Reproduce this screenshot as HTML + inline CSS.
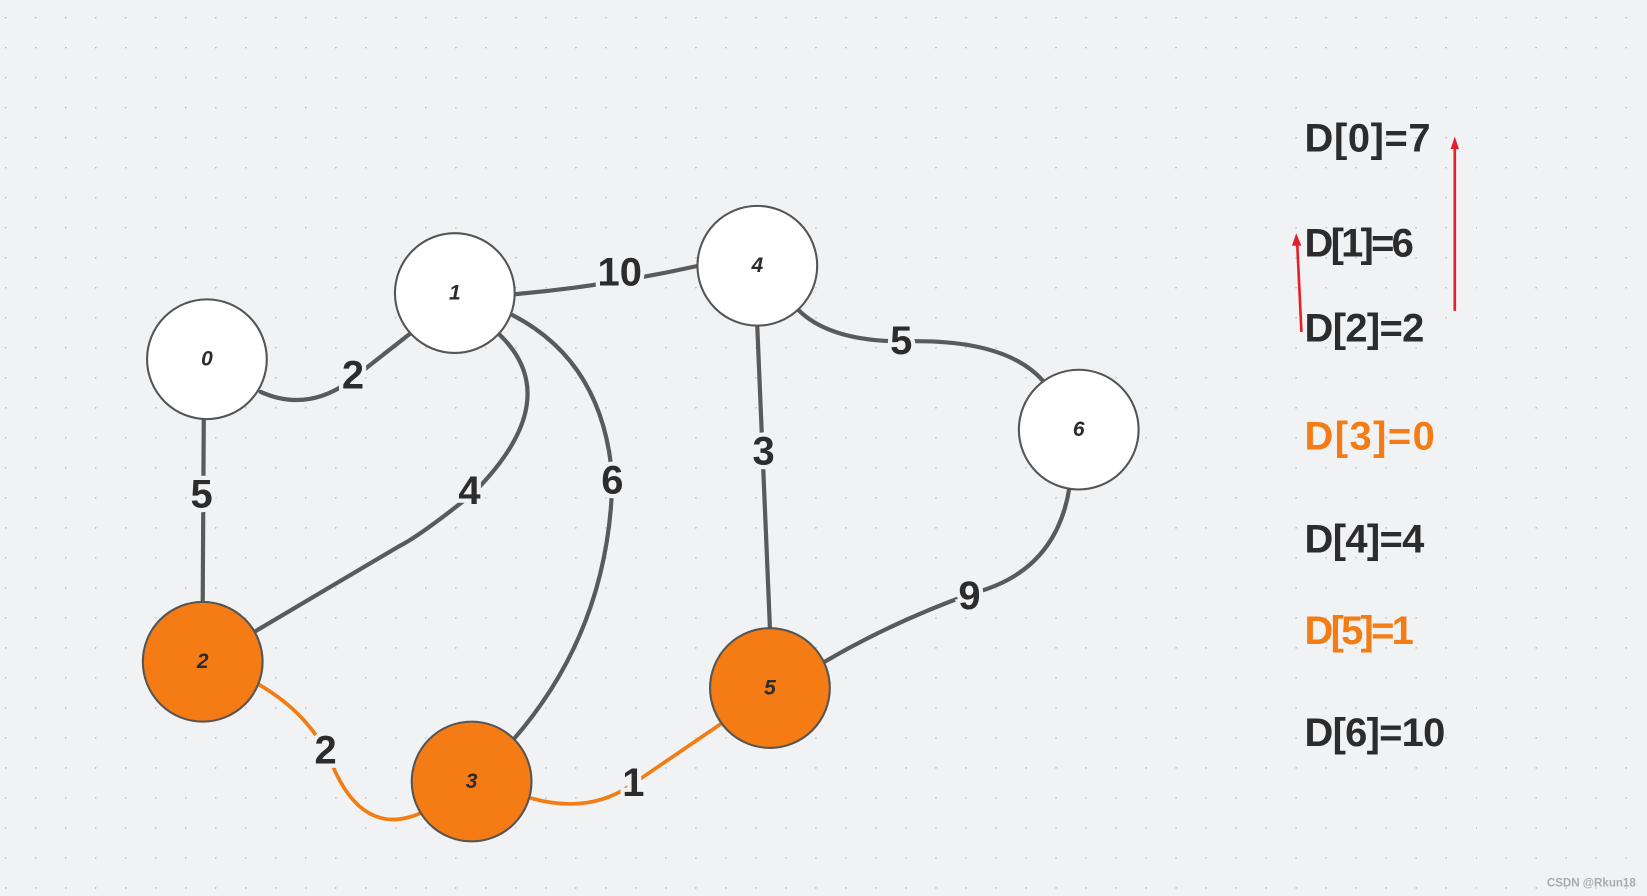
<!DOCTYPE html>
<html><head><meta charset="utf-8"><style>
html,body{margin:0;padding:0;background:#f1f2f4;}
svg{display:block}
text{font-family:"Liberation Sans","DejaVu Sans",sans-serif;font-weight:bold;}
</style></head><body>
<svg width="1647" height="896" viewBox="0 0 1568 853" preserveAspectRatio="none" xmlns="http://www.w3.org/2000/svg">
<defs>
<pattern id="g" x="4.8" y="16.2" width="28.57" height="28.57" patternUnits="userSpaceOnUse">
<circle cx="0.6" cy="0.6" r="0.7" fill="#a9acb2"/>
</pattern>
</defs>
<rect width="1568" height="853" fill="#f1f2f4"/>
<rect width="1568" height="853" fill="url(#g)"/>
<g fill="none" stroke="#5a5a5a" stroke-width="4" stroke-linecap="round">
<path d="M248,373 Q290,392 330,365 L390,318"/>
<path d="M194,398 L193,573"/>
<path d="M491,280 Q580,272 665,253"/>
<path d="M475,318 Q540,380 450,470 Q400,510 380,520 L243,601"/>
<path d="M488,300 Q575,345 583,456 Q580,600 488,705"/>
<path d="M721,312 L733,598"/>
<path d="M760,295 Q790,325 860,325 Q960,322 995,365"/>
<path d="M1018,465 Q1005,545 925,565 Q850,592 785,630"/>
</g>
<g fill="none" stroke="#f47c14" stroke-width="3.5" stroke-linecap="round">
<path d="M247,652 Q295,680 315,725 Q345,800 403,773"/>
<path d="M506,760 Q560,775 600,748 L688,688"/>
</g>
<g font-size="38" fill="#2c2c2c" text-anchor="middle" stroke="#f1f2f4" stroke-width="8" paint-order="stroke">
<text x="336" y="370">2</text>
<text x="192" y="483">5</text>
<text x="590" y="272">10</text>
<text x="447" y="480">4</text>
<text x="583" y="470">6</text>
<text x="727" y="442">3</text>
<text x="858" y="337">5</text>
<text x="923" y="580">9</text>
<text x="310" y="727">2</text>
<text x="603" y="758">1</text>
</g>
<g stroke="#555" stroke-width="2">
<circle cx="197" cy="342" r="57" fill="#fff"/>
<circle cx="433" cy="279" r="57" fill="#fff"/>
<circle cx="721" cy="253" r="57" fill="#fff"/>
<circle cx="1027" cy="409" r="57" fill="#fff"/>
<circle cx="193" cy="630" r="57" fill="#f57b15"/>
<circle cx="449" cy="744" r="57" fill="#f57b15"/>
<circle cx="733" cy="655" r="57" fill="#f57b15"/>
</g>
<g font-size="20" fill="#2c2c2c" text-anchor="middle" font-style="italic">
<text x="197" y="348">0</text>
<text x="433" y="285">1</text>
<text x="721" y="259">4</text>
<text x="1027" y="415">6</text>
<text x="193" y="636">2</text>
<text x="449" y="750">3</text>
<text x="733" y="661">5</text>
</g>
<g font-size="38">
<text x="1242" y="144" fill="#2c2c2c" textLength="120">D[0]=7</text>
<text x="1242" y="244" fill="#2c2c2c" textLength="104">D[1]=6</text>
<text x="1242" y="325" fill="#2c2c2c" textLength="114">D[2]=2</text>
<text x="1242" y="428" fill="#f47c14" textLength="124">D[3]=0</text>
<text x="1242" y="526" fill="#2c2c2c" textLength="114">D[4]=4</text>
<text x="1242" y="613" fill="#f47c14" textLength="104">D[5]=1</text>
<text x="1242" y="710" fill="#2c2c2c" textLength="134">D[6]=10</text>
</g>
<g stroke="#e3202a" stroke-width="2.5" fill="#e3202a">
<line x1="1239" y1="316" x2="1235" y2="232"/>
<polygon points="1234,222 1230,234 1239,234" stroke="none"/>
<line x1="1385" y1="296" x2="1385" y2="140"/>
<polygon points="1385,130 1381,142 1389,142" stroke="none"/>
</g>
<text x="1515" y="844" font-size="11" font-weight="normal" fill="#aaa" text-anchor="middle">CSDN @Rkun18</text>
</svg>
</body></html>
